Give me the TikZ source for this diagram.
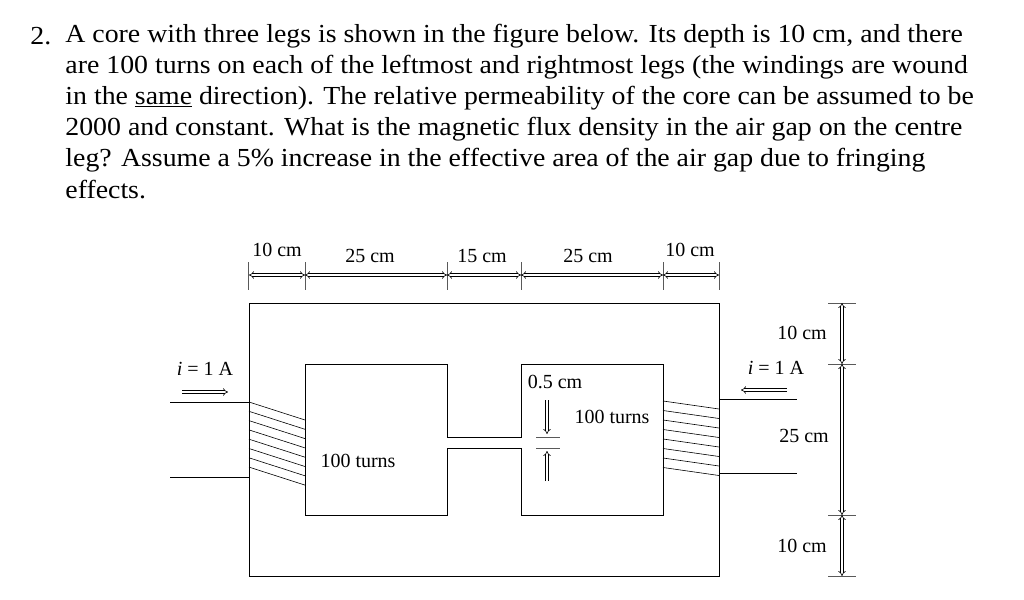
\documentclass[tikz,border=0pt]{standalone}
\usepackage{fontspec}
\setmainfont{Liberation Serif}
\usetikzlibrary{arrows.meta}
\begin{document}
\begin{tikzpicture}[x=1pt,y=-1pt,line width=0.8pt,
  ttl/.style={anchor=west,inner sep=0,xscale=1.07,font=\fontsize{26}{30}\selectfont},
  lbl/.style={inner sep=0,font=\fontsize{20}{22}\selectfont},
  dim/.style={double,double distance=2pt,line width=0.6pt,Implies-Implies},
  sarrow/.style={double,double distance=2pt,line width=0.6pt,-Implies},
  tick/.style={line width=0.6pt,gray!70!black}]
\useasboundingbox (0,0) rectangle (1024,599);
% title
\node[ttl] (n0) at (30,36) {2.};
\node[ttl] (l1) at (65,36) {A core with three legs is shown in the figure below. Its depth is 10 cm, and there};
\node[ttl] (l2) at (65,67) {are 100 turns on each of the leftmost and rightmost legs (the windings are wound};
\node[ttl] (l3) at (65,98) {in the \underline{same} direction). The relative permeability of the core can be assumed to be};
\node[ttl] (l4) at (65,129) {2000 and constant. What is the magnetic flux density in the air gap on the centre};
\node[ttl] (l5) at (65,160) {leg? Assume a 5\% increase in the effective area of the air gap due to fringing};
\node[ttl] (l6) at (65,190) {effects.};
% core
\draw[line width=1pt] (249,303) rectangle (719,576);
\draw[line width=1pt] (447,437) -- (447,364) -- (305,364) -- (305,515) -- (447,515) -- (447,448) -- (521,448) -- (521,515) -- (663,515) -- (663,364) -- (521,364) -- (521,437) -- cycle;
% left coil
\foreach \k in {0,...,7}{\draw[line width=0.6pt] (249,{402+9.3*\k}) -- (305,{420+9.3*\k});}
\draw (170,402) -- (249,402);
\draw (170,477) -- (249,477);
% right coil
\foreach \k in {0,...,7}{\draw[line width=0.6pt] (663,{401+9.5*\k}) -- (719,{409+9.5*\k});}
\draw (719,399) -- (797,399);
\draw (719,473) -- (797,473);
% currents
\node[lbl] (il) at (205,369) {\textit{i} = 1 A};
\coordinate (ila) at (182,392); \coordinate (ilb) at (228,392);
\draw[sarrow] (ila) -- (ilb);
\node[lbl] (ir) at (776,368) {\textit{i} = 1 A};
\coordinate (ira) at (787,390); \coordinate (irb) at (741,390);
\draw[sarrow] (ira) -- (irb);
% top dims
\foreach \x in {248,305,447,521,663,719}{\draw[tick] (\x,262) -- (\x,290);}
\coordinate (d0) at (249,275); \coordinate (d1) at (305,275); \coordinate (d2) at (447,275);
\coordinate (d3) at (521,275); \coordinate (d4) at (663,275); \coordinate (d5) at (719,275);
\draw[dim] (d0) -- (d1); \draw[dim] (d1) -- (d2); \draw[dim] (d2) -- (d3);
\draw[dim] (d3) -- (d4); \draw[dim] (d4) -- (d5);
\node[lbl] (t1) at (277,250) {10 cm};
\node[lbl] (t2) at (370,256) {25 cm};
\node[lbl] (t3) at (482,256) {15 cm};
\node[lbl] (t4) at (588,256) {25 cm};
\node[lbl] (t5) at (690,250) {10 cm};
% right dims
\foreach \y in {303,364,515,576}{\draw[tick] (828,\y) -- (856,\y);}
\coordinate (v0) at (842,303); \coordinate (v1) at (842,364); \coordinate (v2) at (842,515); \coordinate (v3) at (842,576);
\draw[dim] (v0) -- (v1); \draw[dim] (v1) -- (v2); \draw[dim] (v2) -- (v3);
\node[lbl] (r1) at (802,333) {10 cm};
\node[lbl] (r2) at (804,436) {25 cm};
\node[lbl] (r3) at (802,546) {10 cm};
% gap
\node[lbl] (g) at (555,382) {0.5 cm};
\draw[tick] (536,437) -- (560,437);
\draw[tick] (536,448) -- (560,448);
\coordinate (ga) at (547,400); \coordinate (gb) at (547,434);
\coordinate (gc) at (547,481); \coordinate (gd) at (547,451);
\draw[sarrow] (ga) -- (gb); \draw[sarrow] (gc) -- (gd);
\node[lbl] (tr) at (612,417) {100 turns};
\node[lbl] (tl) at (358,461) {100 turns};
\end{tikzpicture}
\end{document}
